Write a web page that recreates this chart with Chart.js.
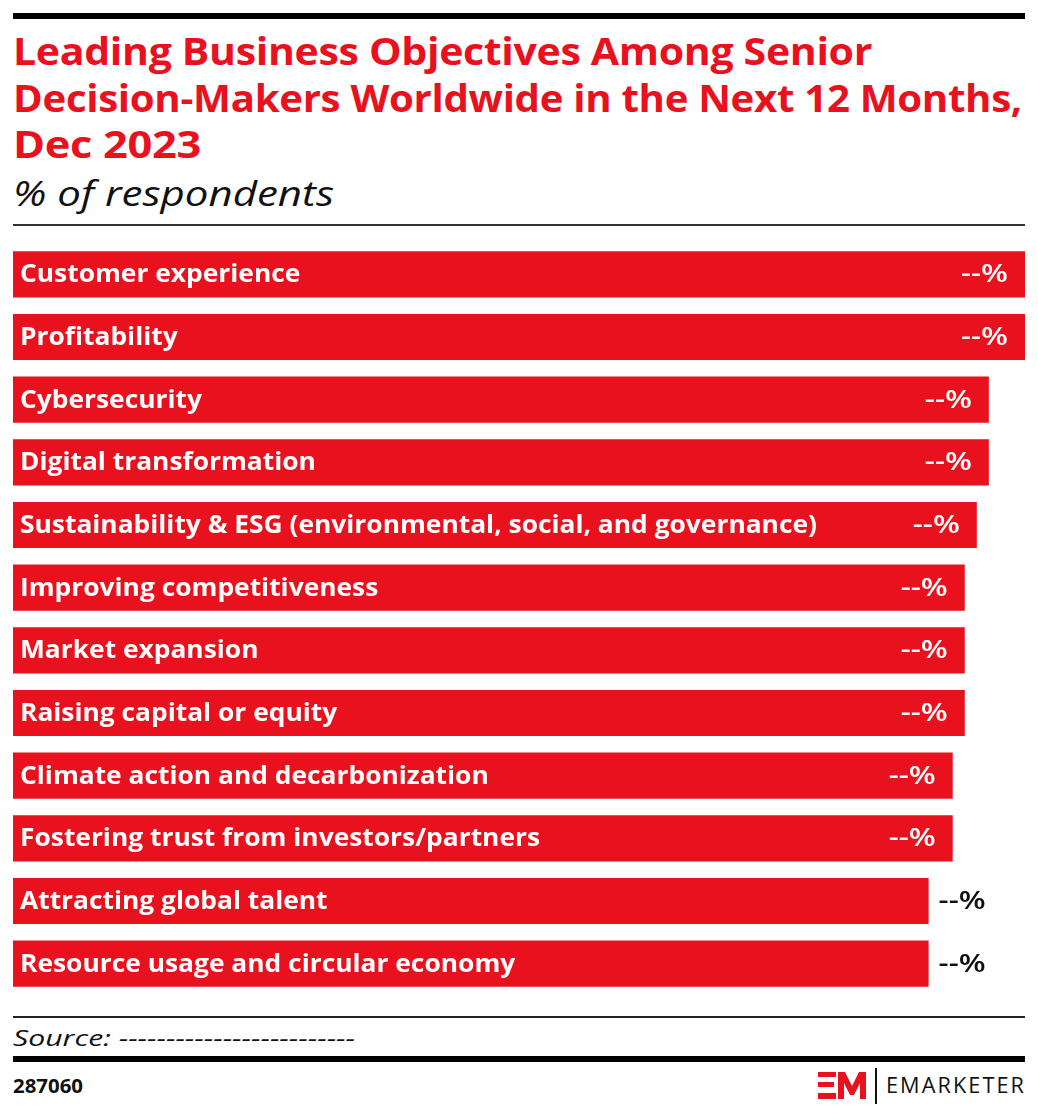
<!DOCTYPE html>
<html>
<head>
<meta charset="utf-8">
<script src="https://cdn.jsdelivr.net/npm/chart.js@4.4.1/dist/chart.umd.min.js"></script>
<style>
  html, body { margin:0; padding:0; background:#fff; }
  body { width:1038px; height:1116px; position:relative; overflow:hidden; font-family: "Open Sans", Lato, sans-serif; }
  .abs { position:absolute; white-space:nowrap; }
  .fit { display:inline-block; white-space:nowrap; transform-origin:0 50%; }
  #topbar { left:13px; top:13px; width:1012px; height:6px; background:#000; }
  #title { left:13px; top:28px; color:#E9111D; font-weight:700; font-size:37px; line-height:46.5px; letter-spacing:-0.3px; }
  #subtitle { left:13px; top:170px; font-style:italic; font-size:34px; color:#111; font-weight:400; }
  #line1 { left:13px; top:224px; width:1012px; height:2px; background:#333; }
  #chartwrap { left:13px; top:243px; width:1012px; height:752px; }
  #line2 { left:13px; top:1016px; width:1012px; height:2px; background:#222; }
  #source { left:13px; top:1022px; font-style:italic; font-size:22px; color:#111; }
  #line3 { left:13px; top:1056px; width:1012px; height:6px; background:#000; }
  #code { left:13px; top:1073px; font-weight:700; font-size:19px; color:#111; }
  #logo { left:818px; top:1068px; width:70px; height:36px; }
  #brand { left:886px; top:1071px; font-size:21px; color:#111; font-weight:500; letter-spacing:2px; }
</style>
</head>
<body>
<div id="topbar" class="abs"></div>
<div id="title" class="abs"><span class="fit" data-w="859">Leading Business Objectives Among Senior</span><br><span class="fit" data-w="1009">Decision-Makers Worldwide in the Next 12 Months,</span><br><span class="fit" data-w="188">Dec 2023</span></div>
<div id="subtitle" class="abs"><span class="fit" data-w="321">% of respondents</span></div>
<div id="line1" class="abs"></div>
<div id="chartwrap" class="abs"><canvas id="c" width="1012" height="752"></canvas></div>
<div id="line2" class="abs"></div>
<div id="source" class="abs"><span class="fit" data-w="342">Source: -------------------------</span></div>
<div id="line3" class="abs"></div>
<div id="code" class="abs"><span class="fit" data-w="70">287060</span></div>
<svg id="logo" class="abs" viewBox="0 0 70 36">
  <polygon points="0,4 18,4 18,9 0,9" fill="#E9111D"/>
  <polygon points="0,14 16,14 16,19 0,19" fill="#E9111D"/>
  <polygon points="0,25 18,25 18,31 0,31" fill="#E9111D"/>
  <polygon points="20,31 20,4 27,4 34,18 41,4 48,4 48,31 42,31 42,15 36,27 32,27 26,15 26,31" fill="#E9111D"/>
  <rect x="57" y="0" width="2" height="36" fill="#111"/>
</svg>
<div id="brand" class="abs"><span class="fit" data-w="140">EMARKETER</span></div>
<script>
const categories = [
  "Customer experience",
  "Profitability",
  "Cybersecurity",
  "Digital transformation",
  "Sustainability & ESG (environmental, social, and governance)",
  "Improving competitiveness",
  "Market expansion",
  "Raising capital or equity",
  "Climate action and decarbonization",
  "Fostering trust from investors/partners",
  "Attracting global talent",
  "Resource usage and circular economy"
];
const values = [84, 84, 81, 81, 80, 79, 79, 79, 78, 78, 76, 76];
const valueLabels = ["--%","--%","--%","--%","--%","--%","--%","--%","--%","--%","--%","--%"];
const axisMax = 84;

const RED = "#E9111D";
const FONT = '"Open Sans", Lato, sans-serif';

// fit HTML text widths via horizontal scaling
document.querySelectorAll('.fit').forEach(el => {
  const target = parseFloat(el.dataset.w);
  const w = el.getBoundingClientRect().width;
  el.style.transform = 'scaleX(' + (target / w) + ')';
});

function scaleFor(ctx, font, text, target) {
  ctx.save();
  ctx.font = font;
  const w = ctx.measureText(text).width;
  ctx.restore();
  return target / w;
}

function drawScaled(ctx, text, x, y, s) {
  ctx.save();
  ctx.translate(x, y);
  ctx.scale(s, 1);
  ctx.fillText(text, 0, 0);
  ctx.restore();
}

const labelPlugin = {
  id: 'barLabels',
  afterDatasetsDraw(chart) {
    const ctx = chart.ctx;
    const meta = chart.getDatasetMeta(0);
    const catFont = '700 25px ' + FONT;
    const valFont = '600 25px ' + FONT;
    const catS = scaleFor(ctx, catFont, categories[4], 797);
    const valS = scaleFor(ctx, valFont, '--%', 47);
    ctx.save();
    ctx.textBaseline = 'middle';
    meta.data.forEach((bar, i) => {
      const left = bar.base;
      const right = bar.x;
      const y = bar.y + 1;
      ctx.font = catFont;
      ctx.fillStyle = '#fff';
      ctx.textAlign = 'left';
      drawScaled(ctx, categories[i], left + 7, y, catS);
      ctx.font = valFont;
      if (values[i] >= 78) {
        ctx.fillStyle = '#fff';
        ctx.textAlign = 'right';
        drawScaled(ctx, valueLabels[i], right - 17, y, valS);
      } else {
        ctx.fillStyle = '#111';
        ctx.textAlign = 'left';
        drawScaled(ctx, valueLabels[i], right + 10, y, valS);
      }
    });
    ctx.restore();
  }
};

new Chart(document.getElementById('c'), {
  type: 'bar',
  data: {
    labels: categories,
    datasets: [{
      data: values,
      backgroundColor: RED,
      borderWidth: 0,
      categoryPercentage: 1,
      barPercentage: 0.736
    }]
  },
  options: {
    indexAxis: 'y',
    responsive: false,
    animation: false,
    layout: { padding: 0 },
    plugins: { legend: { display: false }, tooltip: { enabled: false } },
    scales: {
      x: { display: false, min: 0, max: axisMax },
      y: { display: false }
    }
  },
  plugins: [labelPlugin]
});
</script>
</body>
</html>
